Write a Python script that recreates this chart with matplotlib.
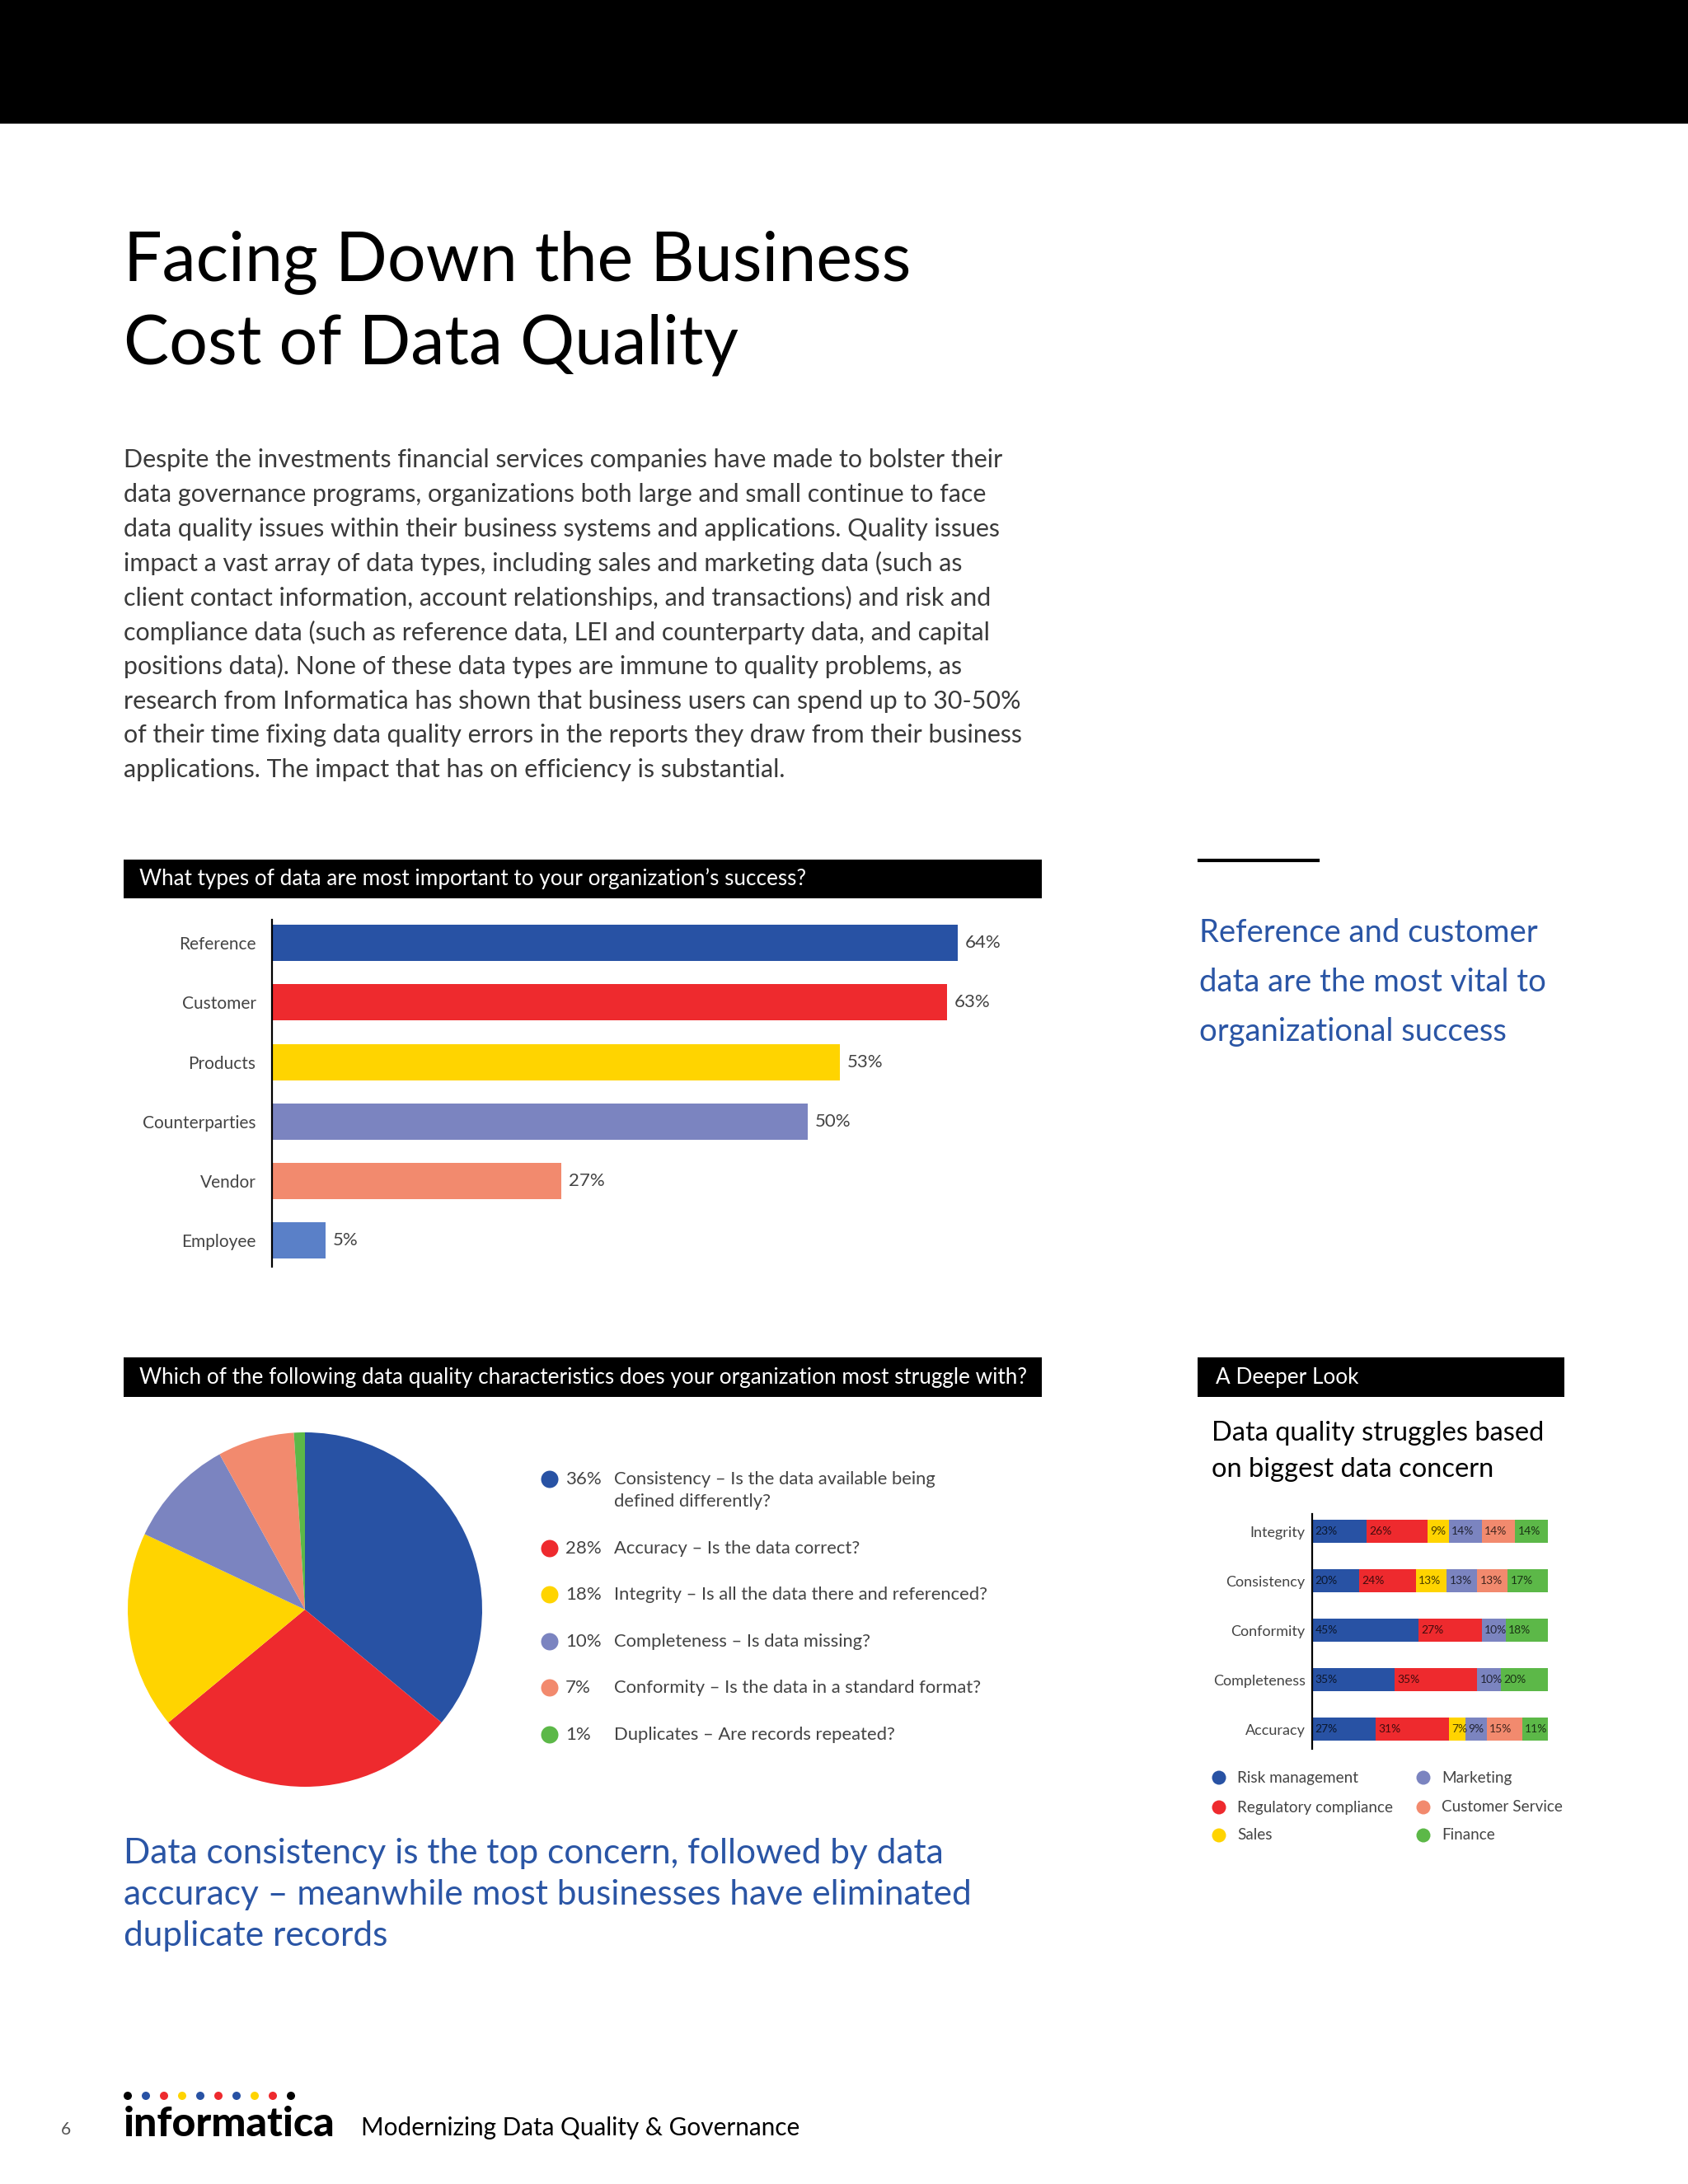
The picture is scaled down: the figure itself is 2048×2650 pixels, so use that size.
import matplotlib
matplotlib.use("Agg")
import matplotlib.pyplot as plt
from matplotlib.patches import Rectangle, Circle

plt.rcParams['font.family'] = ['Lato', 'DejaVu Sans']

W, H = 2048, 2650
BLUE = '#2852A4'
RED = '#EE2A2E'
YELLOW = '#FFD400'
PURPLE = '#7B84C0'
SALMON = '#F28A6E'
GREEN = '#5CB848'
LIGHTBLUE = '#5A80C8'
TEXTBLUE = '#2A55A5'

# --- data ---
title_lines = ["Facing Down the Business", "Cost of Data Quality"]
body_lines = [
    "Despite the investments financial services companies have made to bolster their",
    "data governance programs, organizations both large and small continue to face",
    "data quality issues within their business systems and applications. Quality issues",
    "impact a vast array of data types, including sales and marketing data (such as",
    "client contact information, account relationships, and transactions) and risk and",
    "compliance data (such as reference data, LEI and counterparty data, and capital",
    "positions data). None of these data types are immune to quality problems, as",
    "research from Informatica has shown that business users can spend up to 30-50%",
    "of their time fixing data quality errors in the reports they draw from their business",
    "applications. The impact that has on efficiency is substantial.",
]

bar_categories = ["Reference", "Customer", "Products", "Counterparties", "Vendor", "Employee"]
bar_values = [64, 63, 53, 50, 27, 5]
bar_colors = [BLUE, RED, YELLOW, PURPLE, SALMON, LIGHTBLUE]

pie_values = [36, 28, 18, 10, 7, 1]
pie_pcts = ["36%", "28%", "18%", "10%", "7%", "1%"]
pie_labels = [
    "Consistency \u2013 Is the data available being\ndefined differently?",
    "Accuracy \u2013 Is the data correct?",
    "Integrity \u2013 Is all the data there and referenced?",
    "Completeness \u2013 Is data missing?",
    "Conformity \u2013 Is the data in a standard format?",
    "Duplicates \u2013 Are records repeated?",
]
pie_colors = [BLUE, RED, YELLOW, PURPLE, SALMON, GREEN]

stack_categories = ["Integrity", "Consistency", "Conformity", "Completeness", "Accuracy"]
stack_series = ["Risk management", "Regulatory compliance", "Sales",
                "Marketing", "Customer Service", "Finance"]
risk_mgmt = [23, 20, 45, 35, 27]
regulatory = [26, 24, 27, 35, 31]
sales = [9, 13, 0, 0, 7]
marketing = [14, 13, 10, 10, 9]
customer_service = [14, 13, 0, 0, 15]
finance = [14, 17, 18, 20, 11]
stack_values = [risk_mgmt, regulatory, sales, marketing, customer_service, finance]
stack_colors = [BLUE, RED, YELLOW, PURPLE, SALMON, GREEN]

logo_dots = ['black', BLUE, RED, YELLOW, BLUE, RED, BLUE, YELLOW, RED, 'black']

fig = plt.figure(figsize=(W / 100, H / 100), dpi=100)
fig.patch.set_facecolor('white')

# page layer in pixel coords
page = fig.add_axes([0, 0, 1, 1])
page.set_xlim(0, W)
page.set_ylim(H, 0)
page.axis('off')


def t(x, y, s, size, color='black', **kw):
    kw.setdefault('va', 'center')
    return page.text(x, y, s, fontsize=size, color=color, **kw)


def rect(x0, y0, x1, y1, color):
    page.add_patch(Rectangle((x0, y0), x1 - x0, y1 - y0, facecolor=color, edgecolor='none'))


def px_axes(left, top, right, bottom):
    return fig.add_axes([left / W, 1 - bottom / H, (right - left) / W, (bottom - top) / H])


# top band
rect(0, 0, W, 150, 'black')

# title + body
for i, line in enumerate(title_lines):
    t(150, 318 + i * 101, line, 59.5)
for i, line in enumerate(body_lines):
    t(150, 558 + i * 41.8, line, 21.9, color='#3a3a3a')

# bar chart header
rect(150, 1043, 1264, 1090, 'black')
t(169, 1066, "What types of data are most important to your organization\u2019s success?", 18.8, color='white')

# right callout
page.plot([1455, 1599], [1044, 1044], color='black', lw=3)
for i, line in enumerate(["Reference and customer", "data are the most vital to", "organizational success"]):
    t(1455, 1132 + i * 60, line, 27.5, color=TEXTBLUE)

# horizontal bar chart
ax = px_axes(330, 1116, 1266, 1537)
ypos = list(range(len(bar_categories)))
ax.barh(ypos, bar_values, height=0.61, color=bar_colors)
for y, v in zip(ypos, bar_values):
    ax.text(v + 0.7, y, f"{v}%", va='center', ha='left', fontsize=16, color='#444444')
ax.set_xlim(0, 72)
ax.set_ylim(5.44, -0.39)
ax.set_yticks(ypos)
ax.set_yticklabels(bar_categories, fontsize=15, color='#444444')
ax.tick_params(axis='y', length=0, pad=14)
ax.set_xticks([])
for s in ['top', 'right', 'bottom']:
    ax.spines[s].set_visible(False)
ax.spines['left'].set_linewidth(1.6)
ax.patch.set_alpha(0)

# pie header
rect(150, 1647, 1264, 1695, 'black')
t(169, 1671, "Which of the following data quality characteristics does your organization most struggle with?",
  18.8, color='white')

# pie chart
pax = px_axes(155, 1738, 585, 2168)
pax.pie(pie_values, colors=pie_colors, startangle=90, counterclock=False,
        wedgeprops=dict(linewidth=0))
pax.set_xlim(-1, 1)
pax.set_ylim(-1, 1)
pax.set_aspect('equal')

# pie legend
legend_y = [1795, 1879, 1935, 1992, 2048, 2105]
for y, pct, lab, c in zip(legend_y, pie_pcts, pie_labels, pie_colors):
    page.add_patch(Circle((667, y), 10.5, facecolor=c, edgecolor='none'))
    t(686, y, pct, 16, color='#444444')
    for k, part in enumerate(lab.split('\n')):
        t(745, y + k * 27, part, 15.8, color='#444444')

# pie conclusion
for i, line in enumerate(["Data consistency is the top concern, followed by data",
                          "accuracy \u2013 meanwhile most businesses have eliminated",
                          "duplicate records"]):
    t(150, 2249 + i * 50, line, 30.5, color=TEXTBLUE)

# deeper look header
rect(1453, 1647, 1898, 1695, 'black')
t(1475, 1671, "A Deeper Look", 18.8, color='white')
t(1470, 1739, "Data quality struggles based", 23.5)
t(1470, 1783, "on biggest data concern", 23.5)

# stacked bar chart
sax = px_axes(1592, 1837, 1878, 2122)
sy = list(range(len(stack_categories)))
left = [0] * len(stack_categories)
for vals, c in zip(stack_values, stack_colors):
    sax.barh(sy, vals, left=left, height=0.48, color=c)
    for y, l, v in zip(sy, left, vals):
        if v > 0:
            sax.text(l + 1.2, y, f"{v}%", va='center', ha='left', fontsize=10,
                     color='black', alpha=0.72)
    left = [a + b for a, b in zip(left, vals)]
sax.set_xlim(0, 100)
sax.set_ylim(4.4, -0.35)
sax.set_yticks(sy)
sax.set_yticklabels(stack_categories, fontsize=13, color='#444444')
sax.tick_params(axis='y', length=0, pad=6)
sax.set_xticks([])
for s in ['top', 'right', 'bottom']:
    sax.spines[s].set_visible(False)
sax.spines['left'].set_linewidth(1.6)
sax.patch.set_alpha(0)

# stacked legend
leg_pos = [(1479, 2157), (1479, 2193), (1479, 2227), (1727, 2157), (1727, 2193), (1727, 2227)]
for (x, y), name, c in zip(leg_pos, stack_series, stack_colors):
    page.add_patch(Circle((x, y), 8.5, facecolor=c, edgecolor='none'))
    t(x + 22, y, name, 13.6, color='#444444')

# footer
t(74, 2584, "6", 15, color='#555555')
for i, c in enumerate(logo_dots):
    page.add_patch(Circle((155 + i * 22, 2543), 5, facecolor=c, edgecolor='none'))
t(150, 2578, "informatica", 36, weight='black')
t(438, 2582, "Modernizing Data Quality & Governance", 21.4)

fig.savefig("out.png", dpi=100, facecolor='white')
